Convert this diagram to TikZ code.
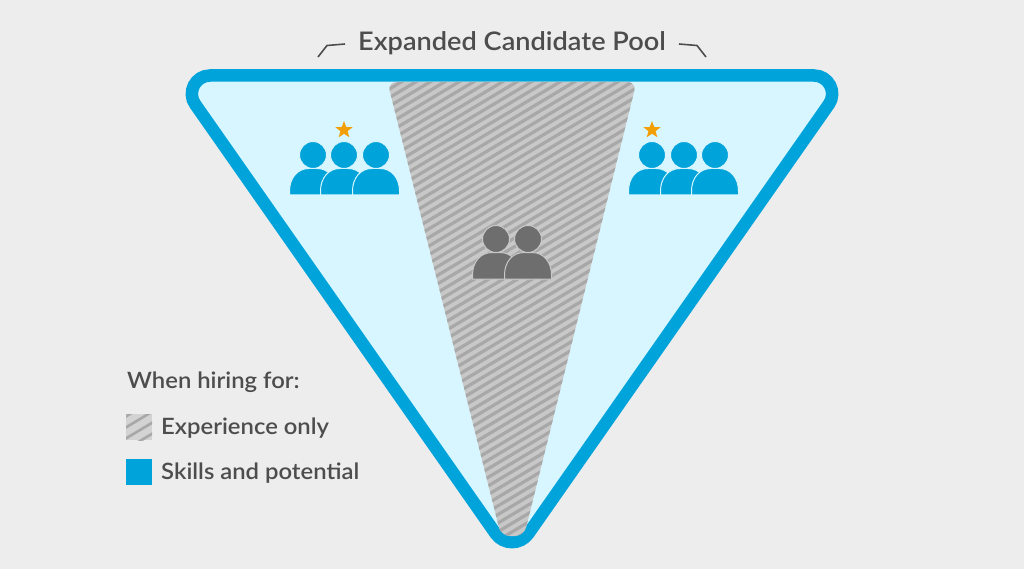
\documentclass[tikz,border=0pt]{standalone}
\usepackage{fontspec}
\setmainfont[FakeStretch=1.06]{Lato Semibold}
\usetikzlibrary{shapes.geometric}
\definecolor{pagegrey}{HTML}{EDEDED}
\definecolor{poolblue}{HTML}{00A3DA}
\definecolor{poollight}{HTML}{D8F6FF}
\definecolor{stripelight}{HTML}{C8C8C8}
\definecolor{stripedark}{HTML}{A8A8A8}
\definecolor{persongrey}{HTML}{6E6E6E}
\definecolor{textgrey}{HTML}{4D4D4D}
\definecolor{staramber}{HTML}{F29F05}
\tikzset{
  x=1pt, y=-1pt,
  label text/.style={text=textgrey, font=\fontsize{25.6}{26}\selectfont, inner sep=0pt},
  legend text/.style={text=textgrey, font=\fontsize{22.5}{24}\selectfont, inner sep=0pt, anchor=base west},
  tick line/.style={draw=textgrey, line width=1.6pt},
  rating star/.style={star, star points=5, star point ratio=2.4, fill=staramber, inner sep=0pt, minimum size=18pt},
}
% one person, head and shoulders
\newcommand{\personicon}[5]{
  \draw[fill=#4, draw=#5, line width=1pt] (#1-#3,#2) -- (#1-#3,#2-4)
    .. controls (#1-#3,#2-17) and (#1-#3+8,#2-26.5) .. (#1-4,#2-26.5) -- (#1+4,#2-26.5)
    .. controls (#1+#3-8,#2-26.5) and (#1+#3,#2-17) .. (#1+#3,#2-4) -- (#1+#3,#2) -- cycle;
  \draw[fill=#4, draw=#5, line width=1pt] (#1,#2-40) circle (13.5);
}
\begin{document}
\begin{tikzpicture}
  \useasboundingbox (0,0) rectangle (1024,569);
  \fill[pagegrey] (0,0) rectangle (1024,569);

  % the pool
  \draw[fill=poollight, draw=poolblue, line width=12.5pt]
    (210,75.5) .. controls (195.4,75.5) and (186.7,92.2) .. (195.1,104.2)
    -- (495.6,533.6) .. controls (503.6,545) and (520.4,545) .. (528.4,533.6)
    -- (828.9,104.2) .. controls (837.3,92.2) and (828.6,75.5) .. (814,75.5) -- cycle;

  % experience only wedge
  \begin{scope}
    \clip[rounded corners=9pt] (387.5,82) -- (636.5,82) -- (524,536) -- (501,536) -- cycle;
    \fill[stripelight] (380,80) rectangle (640,545);
    \foreach \y in {0, 8.6, ..., 680}
      \draw[stripedark, line width=3.2pt] (380,\y) -- (640,\y-155);
  \end{scope}

  % people, left
  \foreach \x in {313, 344, 376}
    \personicon{\x}{195}{23.5}{poolblue}{poollight};
  \node[rating star] (starleft) at (344,130) {};

  % people, right
  \foreach \x in {652, 684, 715}
    \personicon{\x}{195}{23.5}{poolblue}{poollight};
  \node[rating star] (starright) at (652,130) {};

  % people, middle
  \personicon{496}{279}{23.5}{persongrey}{stripelight};
  \personicon{528}{279}{23.5}{persongrey}{stripelight};

  % title
  \node[label text] (title) at (512,43.5) {Expanded Candidate Pool};
  \draw[tick line] (318,57) -- (327,45.5) -- (345,44);
  \draw[tick line] (679,44) -- (697,45.5) -- (706,57);

  % legend
  \node[legend text] (legendhead) at (127,388) {When hiring for:};
  \begin{scope}
    \clip (126,414) rectangle (152,440);
    \fill[stripelight!70!pagegrey] (126,414) rectangle (152,440);
    \foreach \y in {420, 431, ..., 480}
      \draw[stripedark, line width=2.6pt] (120,\y) -- (160,\y-24);
  \end{scope}
  \node[legend text] (legendexp) at (161,434) {Experience only};
  \fill[poolblue] (126,459) rectangle (152,485);
  \node[legend text] (legendskill) at (161,479) {Skills and potential};
\end{tikzpicture}
\end{document}
